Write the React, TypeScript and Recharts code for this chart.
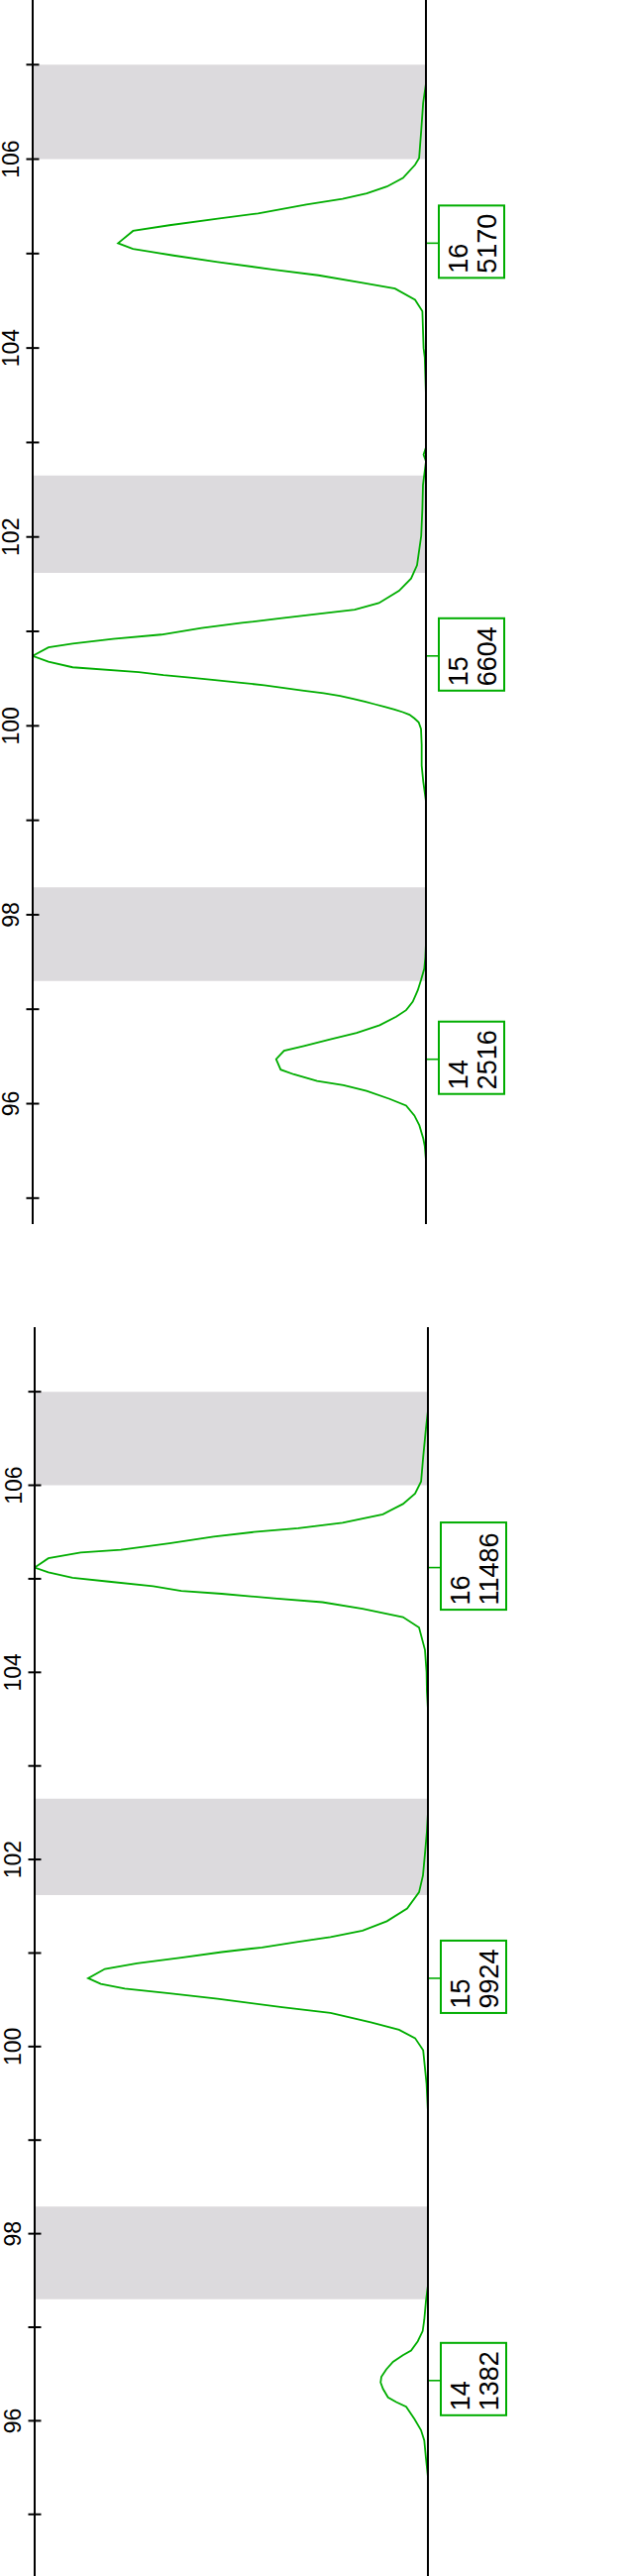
import { ComposedChart, Line, XAxis, YAxis, ReferenceArea, ReferenceLine, ReferenceDot } from "recharts";

const GREEN = "#00ad00";
const BAND = "#dcdadd";
const FONT = "'Liberation Sans', Arial, sans-serif";

// size ticks (bp) and the bin bands
const BP_TICKS = [95, 96, 97, 98, 99, 100, 101, 102, 103, 104, 105, 106, 107];
const BINS = [
  [97.3, 98.29],
  [101.62, 102.65],
  [106, 107],
];

// panel 1 trace
const P1_BP = [
  94.7, 95.4, 95.55, 95.63, 95.77, 95.875, 95.98, 96.05, 96.136, 96.196, 96.24, 96.31, 96.36, 96.47, 96.56, 96.61,
  96.68, 96.75, 96.83, 96.92, 96.99, 97.08, 97.2, 97.31, 97.43, 97.55, 97.7, 99.2, 99.41, 99.58, 99.8, 99.967,
  100.037, 100.079, 100.118, 100.145, 100.173, 100.202, 100.229, 100.257, 100.286, 100.317, 100.345, 100.373,
  100.401, 100.429, 100.457, 100.485, 100.512, 100.537, 100.569, 100.62, 100.68, 100.74, 100.83, 100.87, 100.92,
  100.966, 101.036, 101.09, 101.14, 101.19, 101.23, 101.3, 101.43, 101.56, 101.7, 102.01, 102.3, 102.55, 102.7,
  102.8, 102.87, 102.95, 103.5, 103.9, 104.0, 104.39, 104.51, 104.63, 104.69, 104.77, 104.83, 104.91, 104.98,
  105.05, 105.11, 105.24, 105.3, 105.37, 105.425, 105.52, 105.58, 105.636, 105.71, 105.8, 105.94, 106.01, 106.29,
  106.596, 106.8, 107.8,
];
const P1_RFU = [
  0, 0, 20, 45, 111, 195, 333, 610, 998, 1385, 1829, 2217, 2440, 2516, 2383, 2050,
  1608, 1164, 777, 499, 333, 221, 138, 83, 28, 10, 0, 0, 45, 72, 72, 83,
  122, 194, 277, 388, 527, 693, 860, 1026, 1219, 1442, 1718, 2050,
  2383, 2716, 3105, 3547, 3963, 4407, 4823, 5933, 6339, 6604, 6339, 5933, 5256,
  4445, 3768, 3092, 2414, 1738, 1197, 791, 452, 250, 150, 80, 60, 50, 20,
  0, 40, 0, 0, 20, 40, 60, 183, 520, 1064, 1806, 2551, 3497, 4240,
  4920, 5170, 4918, 4309, 3497, 2820, 2009, 1400, 994, 655, 386, 183, 115, 81,
  47, 0, 0,
];
const P1_ALLELE = ["14", "15", "16"];
const P1_SIZE = [96.47, 100.74, 105.11];
const P1_HEIGHT = [2516, 6604, 5170];

// panel 2 trace
const P2_BP = [
  94.2, 95.4, 95.6, 95.79, 95.9, 96.02, 96.15, 96.2, 96.25, 96.34, 96.41, 96.47, 96.55, 96.63, 96.7, 96.75,
  96.85, 96.96, 97.08, 97.28, 97.45, 99.3, 99.6, 99.96, 100.09, 100.18, 100.26, 100.36, 100.42, 100.51, 100.57,
  100.62, 100.67, 100.73, 100.83, 100.89, 100.95, 101.01, 101.06, 101.12, 101.17, 101.24, 101.34, 101.475,
  101.65, 101.83, 102.09, 102.3, 102.5, 103.6, 103.8, 104.0, 104.24, 104.48, 104.59, 104.68, 104.75, 104.79,
  104.84, 104.87, 104.92, 104.97, 105.01, 105.07, 105.12, 105.22, 105.28, 105.31, 105.38, 105.45, 105.5, 105.54,
  105.6, 105.69, 105.8, 105.91, 106.04, 106.3, 106.6, 106.8, 107.8,
];
const P2_RFU = [
  0, 0, 58, 107, 203, 396, 636, 926, 1166, 1311, 1382, 1360, 1215, 1021, 732, 492,
  298, 153, 107, 58, 0, 0, 40, 139, 376, 845, 1669, 2847, 4259, 6142, 7554,
  8853, 9556, 9924, 9437, 8497, 7204, 6023, 4848, 3790, 2847, 1909, 1198, 607,
  260, 145, 80, 30, 0, 0, 30, 40, 87, 260, 729, 1909, 3081, 4495,
  6023, 7204, 8025, 9315, 10380, 11086, 11486, 11086, 10143, 8968, 7554, 6260, 5083, 3790,
  2494, 1316, 729, 376, 200, 139, 60, 0, 0,
];
const P2_ALLELE = ["14", "15", "16"];
const P2_SIZE = [96.43, 100.73, 105.12];
const P2_HEIGHT = [1382, 9924, 11486];

function BpTick({ y, payload, axisX }: any) {
  const v = payload.value;
  const lx = axisX - 13.5;
  return (
    <g>
      <line x1={axisX - 6.5} x2={axisX + 6.5} y1={y} y2={y} stroke="#000" strokeWidth={2} />
      {v % 2 === 0 && (
        <text
          x={lx}
          y={y}
          transform={`rotate(-90 ${lx} ${y})`}
          textAnchor="middle"
          fontSize={23}
          fontFamily={FONT}
          fill="#000"
        >
          {v}
        </text>
      )}
    </g>
  );
}

function PeakTag({ cx, cy, allele, height }: any) {
  const txt = String(height);
  const h = Math.max(txt.length, allele.length) * 15 + 13;
  const left = cx + 13;
  const topY = cy - h / 2 - 1.5;
  const bottom = topY + h;
  const ty = bottom - 4.5;
  return (
    <g>
      <line x1={cx + 1} x2={left} y1={cy} y2={cy} stroke={GREEN} strokeWidth={1.6} />
      <rect x={left} y={topY} width={66} height={h} fill="#fff" stroke={GREEN} strokeWidth={2} />
      <text x={left + 29} y={ty} transform={`rotate(-90 ${left + 29} ${ty})`} fontSize={27} fontFamily={FONT} fill="#000">
        {allele}
      </text>
      <text x={left + 58} y={ty} transform={`rotate(-90 ${left + 58} ${ty})`} fontSize={27} fontFamily={FONT} fill="#000">
        {txt}
      </text>
    </g>
  );
}

function Panel({ top, height, axisX, lo, hi, maxRfu, bp, rfu, alleles, sizes, heights }: any) {
  const data = bp.map((b: number, i: number) => ({ bp: b, rfu: rfu[i] }));
  const baseX = axisX + 397;
  return (
    <div style={{ position: "absolute", left: 0, top, width: 638, height }}>
      <ComposedChart
        layout="vertical"
        width={638}
        height={height}
        data={data}
        margin={{ top: 0, right: 638 - baseX, bottom: 0, left: 0 }}
      >
        <XAxis type="number" dataKey="rfu" domain={[0, maxRfu]} reversed hide allowDataOverflow />
        <YAxis
          type="number"
          dataKey="bp"
          domain={[lo, hi]}
          reversed
          allowDataOverflow
          ticks={BP_TICKS}
          interval={0}
          width={axisX}
          tickSize={0}
          tickMargin={0}
          tickLine={false}
          axisLine={{ stroke: "#000", strokeWidth: 2 }}
          tick={(p: any) => <BpTick {...p} axisX={axisX} />}
        />
        {BINS.map(([a, b]) => (
          <ReferenceArea key={a} y1={a} y2={b} fill={BAND} fillOpacity={1} stroke="none" />
        ))}
        <Line type="linear" dataKey="rfu" stroke={GREEN} strokeWidth={1.8} dot={false} isAnimationActive={false} />
        <ReferenceLine x={0} stroke="#000" strokeWidth={2} />
        {sizes.map((s: number, i: number) => (
          <ReferenceDot
            key={s}
            x={0}
            y={s}
            r={0}
            ifOverflow="visible"
            shape={(p: any) => <PeakTag cx={p.cx} cy={p.cy} allele={alleles[i]} height={heights[i]} />}
          />
        ))}
      </ComposedChart>
    </div>
  );
}

export default function App() {
  return (
    <div style={{ position: "absolute", left: 0, top: 0, width: 638, height: 2599, overflow: "hidden", background: "#fff" }}>
      <Panel
        top={-11.24}
        height={1246.5}
        axisX={33}
        lo={94.72}
        hi={107.8}
        maxRfu={6604}
        bp={P1_BP}
        rfu={P1_RFU}
        alleles={P1_ALLELE}
        sizes={P1_SIZE}
        heights={P1_HEIGHT}
      />
      <Panel
        top={1338.7}
        height={1273.3}
        axisX={35}
        lo={94.2}
        hi={107.69}
        maxRfu={11486}
        bp={P2_BP}
        rfu={P2_RFU}
        alleles={P2_ALLELE}
        sizes={P2_SIZE}
        heights={P2_HEIGHT}
      />
    </div>
  );
}
